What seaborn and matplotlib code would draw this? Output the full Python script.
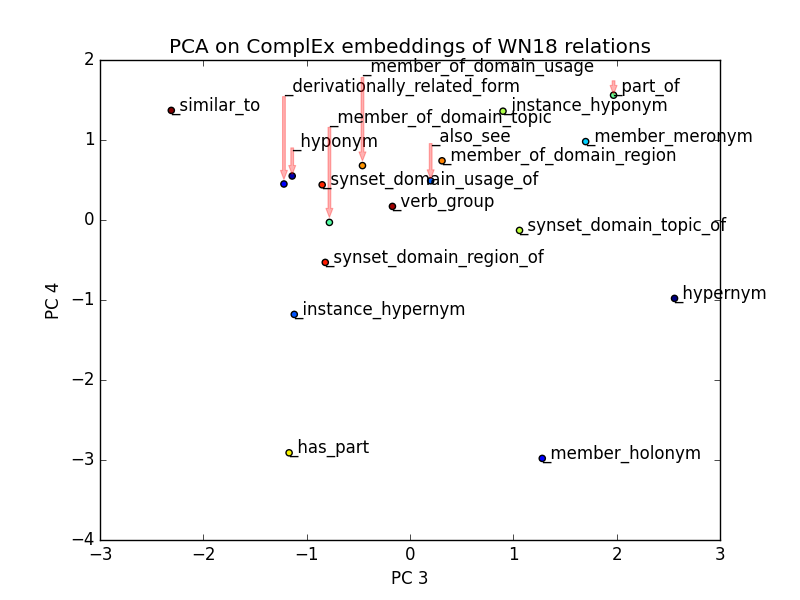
import pandas as pd
import matplotlib
matplotlib.use('Agg')
import matplotlib.pyplot as plt
import seaborn as sns

# PCA coordinates of the WN18 relation embeddings
relations = ['_similar_to', '_derivationally_related_form', '_hyponym',
             '_member_of_domain_usage', '_member_of_domain_topic',
             '_synset_domain_usage_of', '_also_see', '_member_of_domain_region',
             '_verb_group', '_instance_hyponym', '_part_of', '_member_meronym',
             '_synset_domain_topic_of', '_synset_domain_region_of',
             '_instance_hypernym', '_has_part', '_member_holonym', '_hypernym']
pc3 = [-2.31, -1.22, -1.14, -0.46, -0.78, -0.85, 0.20, 0.31,
       -0.17, 0.90, 1.97, 1.70, 1.06, -0.82, -1.12, -1.17, 1.28, 2.56]
pc4 = [1.37, 0.45, 0.55, 0.68, -0.03, 0.44, 0.49, 0.74,
       0.17, 1.36, 1.56, 0.98, -0.13, -0.53, -1.18, -2.91, -2.98, -0.98]
# position on the jet colormap for each relation
jet_vals = [1.0, 0.12, 0.04, 0.75, 0.45, 0.87, 0.22, 0.77,
            0.97, 0.56, 0.47, 0.33, 0.58, 0.88, 0.21, 0.65, 0.12, 0.0]

# labels that were moved away from crowded points: (text y, arrow start y)
moved = {'_derivationally_related_form': (1.60, 1.60),
         '_hyponym': (0.91, 0.92),
         '_member_of_domain_usage': (1.85, 1.84),
         '_member_of_domain_topic': (1.22, 1.22),
         '_also_see': (0.98, 0.98),
         '_part_of': (1.60, 1.75)}

df = pd.DataFrame({'relation': relations, 'pc3': pc3, 'pc4': pc4})
colors = [plt.cm.jet(v) for v in jet_vals]

plt.style.use('classic')
fig, ax = plt.subplots(figsize=(8, 6), dpi=100)
fig.patch.set_facecolor('white')

sns.scatterplot(x='pc3', y='pc4', hue='relation', palette=colors, data=df,
                s=20, edgecolor='black', linewidth=1, legend=False, ax=ax)

arrow = dict(facecolor='red', edgecolor='red', alpha=0.3, linewidth=0.8,
             width=2.0, headwidth=5, headlength=6.5, shrink=0.05)
for name, x, y in zip(relations, pc3, pc4):
    if name in moved:
        ty, ay = moved[name]
        ax.annotate('', xy=(x, y), xytext=(x, ay), arrowprops=arrow)
        ax.annotate(name, (x, ty), fontsize=12)
    else:
        ax.annotate(name, (x, y), fontsize=12)

ax.set_xlim(-3, 3)
ax.set_ylim(-4, 2)
ax.set_title('PCA on ComplEx embeddings of WN18 relations')
ax.set_xlabel('PC 3')
ax.set_ylabel('PC 4')
plt.savefig('out.png', dpi=100, facecolor='white')
